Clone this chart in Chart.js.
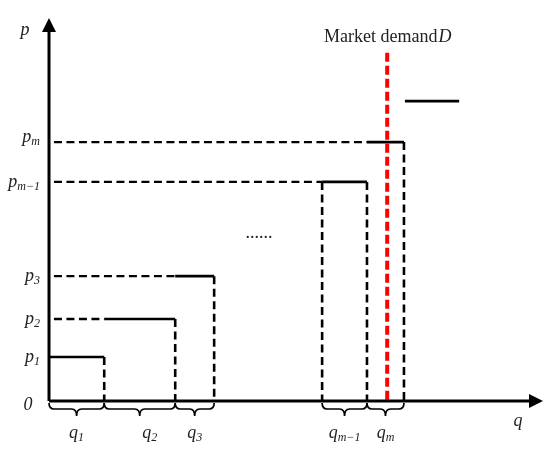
<!DOCTYPE html>
<html>
<head>
<meta charset="utf-8">
<script src="https://cdn.jsdelivr.net/npm/chart.js@4.4.1/dist/chart.umd.min.js"></script>
<style>
  html, body { margin: 0; padding: 0; background: #fff; }
  #wrap { width: 550px; height: 455px; }
</style>
</head>
<body>
<div id="wrap"><canvas id="supply-chart" width="550" height="455"></canvas></div>
<script>
// quantity blocks (q edges) and offer prices, in chart units (0..100)
const stepStart = [0, 11.2, 25.6, 55.4, 64.5, 72.2];
const stepEnd = [11.2, 25.6, 33.5, 64.5, 72.0, 83.2];
const stepPrice = [11.5, 21.4, 32.6, 57.2, 67.6, 78.3];
const priceLabels = [["p", "1"], ["p", "2"], ["p", "3"], ["p", "m\u22121"], ["p", "m"]];
const quantityLabels = [["q", "1"], ["q", "2"], ["q", "3"], ["q", "m\u22121"], ["q", "m"]];
const demandQ = 68.6;
const demandTop = 90.9;
const guideStart = 1.0;

const datasets = [];

// solid offer steps
for (let i = 0; i < stepPrice.length; i++) {
  datasets.push({
    data: [{ x: stepStart[i], y: stepPrice[i] }, { x: stepEnd[i], y: stepPrice[i] }],
    borderColor: "#000",
    borderWidth: 2.6,
  });
}

// dashed horizontal guides from the p axis to each step
for (let i = 1; i < 5; i++) {
  datasets.push({
    data: [{ x: guideStart, y: stepPrice[i] }, { x: stepStart[i], y: stepPrice[i] }],
    borderColor: "#000",
    borderWidth: 2.4,
    borderDash: [8, 4.5],
  });
}

// dashed verticals at the block edges
for (let i = 0; i < 5; i++) {
  datasets.push({
    data: [{ x: stepEnd[i], y: stepPrice[i] }, { x: stepEnd[i], y: 0 }],
    borderColor: "#000",
    borderWidth: 2.6,
    borderDash: [8, 4.5],
  });
}
datasets.push({
  data: [{ x: stepStart[3], y: stepPrice[3] }, { x: stepStart[3], y: 0 }],
  borderColor: "#000",
  borderWidth: 2.6,
  borderDash: [8, 4.5],
});

// market demand
datasets.push({
  data: [{ x: demandQ, y: demandTop }, { x: demandQ, y: 0 }],
  borderColor: "#ff0000",
  borderWidth: 4,
  borderDash: [9, 4],
});

function drawBrace(ctx, x0, x1, y) {
  const mid = (x0 + x1) / 2;
  const y1 = y + 6, y2 = y + 13;
  ctx.beginPath();
  ctx.moveTo(x0, y);
  ctx.quadraticCurveTo(x0, y1, x0 + 5, y1);
  ctx.lineTo(mid - 5, y1);
  ctx.quadraticCurveTo(mid, y1, mid, y2);
  ctx.quadraticCurveTo(mid, y1, mid + 5, y1);
  ctx.lineTo(x1 - 5, y1);
  ctx.quadraticCurveTo(x1, y1, x1, y);
  ctx.stroke();
}

function drawSubLabel(ctx, main, sub, x, y, align) {
  ctx.font = "italic 18px 'Liberation Serif'";
  const w1 = ctx.measureText(main).width;
  ctx.font = "italic 12px 'Liberation Serif'";
  const w2 = ctx.measureText(sub).width;
  let left = x;
  if (align === "center") left = x - (w1 + w2) / 2;
  if (align === "right") left = x - (w1 + w2);
  ctx.textAlign = "left";
  ctx.font = "italic 18px 'Liberation Serif'";
  ctx.fillText(main, left, y);
  ctx.font = "italic 12px 'Liberation Serif'";
  ctx.fillText(sub, left + w1, y + 3);
}

const axesPlugin = {
  id: "axesPlugin",
  afterDatasetsDraw(chart) {
    const ctx = chart.ctx;
    const xs = chart.scales.x, ys = chart.scales.y;
    const ox = xs.getPixelForValue(0), oy = ys.getPixelForValue(0);
    const area = chart.chartArea;
    ctx.save();
    ctx.fillStyle = "#000";
    ctx.strokeStyle = "#000";

    // axes with arrows
    ctx.lineWidth = 3;
    ctx.beginPath();
    ctx.moveTo(ox, oy);
    ctx.lineTo(ox, area.top + 12);
    ctx.moveTo(ox, oy);
    ctx.lineTo(area.right - 12, oy);
    ctx.stroke();
    ctx.beginPath();
    ctx.moveTo(ox, area.top);
    ctx.lineTo(ox - 7, area.top + 14);
    ctx.lineTo(ox + 7, area.top + 14);
    ctx.closePath();
    ctx.fill();
    ctx.beginPath();
    ctx.moveTo(area.right + 1, oy);
    ctx.lineTo(area.right - 13, oy - 7);
    ctx.lineTo(area.right - 13, oy + 7);
    ctx.closePath();
    ctx.fill();

    // braces under q axis
    ctx.lineWidth = 1.7;
    const braceFrom = [0, 11.2, 25.6, 55.4, 64.5];
    const braceTo = [11.2, 25.6, 33.5, 64.5, 72.0];
    for (let i = 0; i < braceFrom.length; i++) {
      drawBrace(ctx, xs.getPixelForValue(braceFrom[i]), xs.getPixelForValue(braceTo[i]), oy + 2);
    }

    ctx.fillStyle = "#222";
    ctx.textBaseline = "alphabetic";

    // price labels
    for (let i = 0; i < priceLabels.length; i++) {
      const py = ys.getPixelForValue(stepPrice[i]) + (i === 4 ? 0 : 5);
      drawSubLabel(ctx, priceLabels[i][0], priceLabels[i][1], 40, py, "right");
    }
    // quantity labels
    for (let i = 0; i < quantityLabels.length; i++) {
      const mid = xs.getPixelForValue((braceFrom[i] + braceTo[i]) / 2) + (i === 1 ? 10 : 0);
      drawSubLabel(ctx, quantityLabels[i][0], quantityLabels[i][1], mid, oy + 37, "center");
    }

    ctx.font = "italic 18px 'Liberation Serif'";
    ctx.textAlign = "center";
    ctx.fillText("0", 28, oy + 9);
    ctx.fillText("p", 25, area.top + 17);
    ctx.fillText("q", 518, oy + 25);

    // ellipsis between blocks
    ctx.font = "18px 'Liberation Serif'";
    ctx.fillText("......", xs.getPixelForValue(42.6), ys.getPixelForValue(42.6));

    // demand label
    ctx.textAlign = "left";
    ctx.font = "18px 'Liberation Serif'";
    const txt = "Market demand";
    const w = ctx.measureText(txt).width;
    const left = 324;
    ctx.fillText(txt, left, 42);
    ctx.font = "italic 18px 'Liberation Serif'";
    ctx.fillText("D", left + w + 1, 42);
    ctx.restore();
  },
};

new Chart(document.getElementById("supply-chart").getContext("2d"), {
  type: "line",
  data: { datasets: datasets },
  options: {
    responsive: false,
    animation: false,
    layout: { padding: { left: 49, right: 8, top: 18, bottom: 54 } },
    elements: { point: { radius: 0 }, line: { tension: 0 } },
    plugins: { legend: { display: false }, tooltip: { enabled: false } },
    scales: {
      x: { type: "linear", min: 0, max: 100, display: false },
      y: { type: "linear", min: 0, max: 100, display: false },
    },
  },
  plugins: [axesPlugin],
});
</script>
</body>
</html>
